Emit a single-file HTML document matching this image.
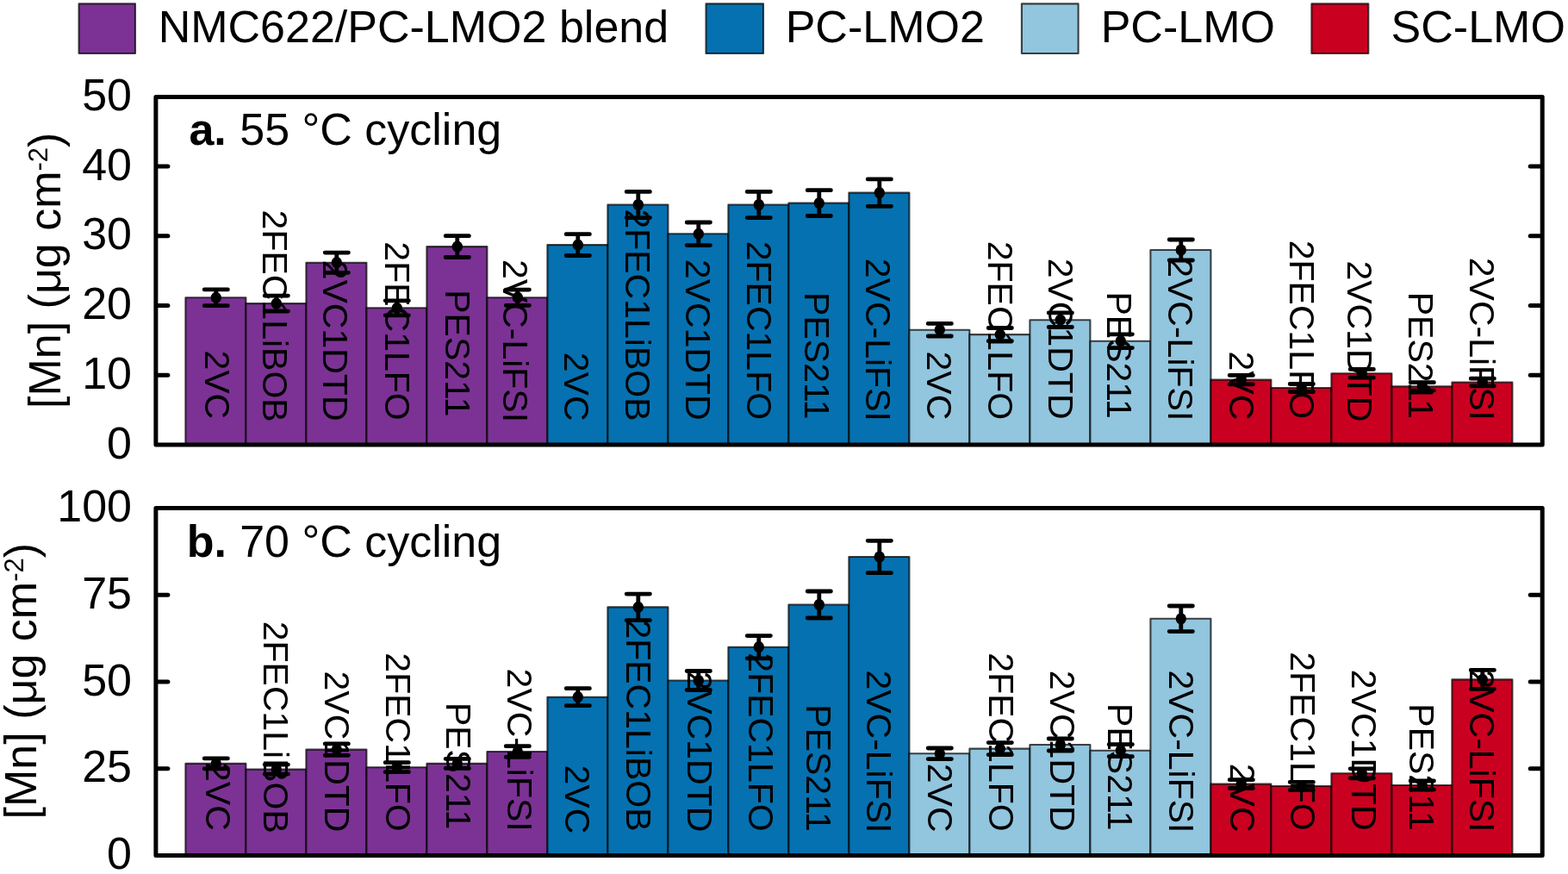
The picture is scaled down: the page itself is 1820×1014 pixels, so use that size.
<!DOCTYPE html>
<html><head><meta charset="utf-8"><title>Mn deposition</title>
<style>html,body{margin:0;padding:0;background:#fff;}svg{display:block;}text{font-kerning:normal;}</style>
</head><body>
<svg width="1820" height="1014" viewBox="0 0 1820 1014" font-family='"Liberation Sans", sans-serif'>
<rect width="1820" height="1014" fill="#fff"/>
<rect x="91.6" y="4.4" width="65.4" height="57.6" fill="#7b3294" stroke="#000" stroke-opacity="0.72" stroke-width="2.1" stroke-linejoin="round"/>
<text x="183.7" y="49" font-size="52">NMC622/PC-LMO2 blend</text>
<rect x="819.5" y="4.4" width="66.5" height="57.6" fill="#0571b0" stroke="#000" stroke-opacity="0.72" stroke-width="2.1" stroke-linejoin="round"/>
<text x="911.7" y="49" font-size="52">PC-LMO2</text>
<rect x="1185.9" y="4.4" width="65.7" height="57.6" fill="#92c5de" stroke="#000" stroke-opacity="0.72" stroke-width="2.1" stroke-linejoin="round"/>
<text x="1277.7" y="49" font-size="52">PC-LMO</text>
<rect x="1522.4" y="4.4" width="65.9" height="57.6" fill="#ca0020" stroke="#000" stroke-opacity="0.72" stroke-width="2.1" stroke-linejoin="round"/>
<text x="1614.6" y="49" font-size="52">SC-LMO</text>
<g stroke="#000" stroke-opacity="0.72" stroke-width="2.1" stroke-linejoin="round">
<rect x="215.4" y="345.3" width="70" height="170.7" fill="#7b3294"/>
<rect x="285.4" y="352.1" width="70" height="163.9" fill="#7b3294"/>
<rect x="355.4" y="304.7" width="70" height="211.3" fill="#7b3294"/>
<rect x="425.4" y="357.3" width="70" height="158.7" fill="#7b3294"/>
<rect x="495.4" y="286.1" width="70" height="229.9" fill="#7b3294"/>
<rect x="565.4" y="345.2" width="70" height="170.8" fill="#7b3294"/>
<rect x="635.4" y="284.1" width="70" height="231.9" fill="#0571b0"/>
<rect x="705.4" y="237.5" width="70" height="278.5" fill="#0571b0"/>
<rect x="775.4" y="271.3" width="70" height="244.7" fill="#0571b0"/>
<rect x="845.4" y="237.5" width="70" height="278.5" fill="#0571b0"/>
<rect x="915.4" y="235.6" width="70" height="280.4" fill="#0571b0"/>
<rect x="985.4" y="223.6" width="70" height="292.4" fill="#0571b0"/>
<rect x="1055.4" y="382.7" width="70" height="133.3" fill="#92c5de"/>
<rect x="1125.4" y="388.1" width="70" height="127.9" fill="#92c5de"/>
<rect x="1195.4" y="371.2" width="70" height="144.8" fill="#92c5de"/>
<rect x="1265.4" y="395.7" width="70" height="120.3" fill="#92c5de"/>
<rect x="1335.4" y="290" width="70" height="226" fill="#92c5de"/>
<rect x="1405.4" y="440.6" width="70" height="75.4" fill="#ca0020"/>
<rect x="1475.4" y="450" width="70" height="66" fill="#ca0020"/>
<rect x="1545.4" y="433.3" width="70" height="82.7" fill="#ca0020"/>
<rect x="1615.4" y="448.4" width="70" height="67.6" fill="#ca0020"/>
<rect x="1685.4" y="443.5" width="70" height="72.5" fill="#ca0020"/>
</g>
<g font-size="41" text-anchor="end">
<text transform="translate(237.7 486.2) rotate(90)">2VC</text>
<text transform="translate(304.9 489.7) rotate(90)">2FEC1LiBOB</text>
<text transform="translate(375.3 488.5) rotate(90)">2VC1DTD</text>
<text transform="translate(446.7 487.7) rotate(90)">2FEC1LFO</text>
<text transform="translate(517.4 483.6) rotate(90)">PES211</text>
<text transform="translate(584.4 490.1) rotate(90)">2VC-LiFSI</text>
<text transform="translate(655.2 488.5) rotate(90)">2VC</text>
<text transform="translate(726.2 488.5) rotate(90)">2FEC1LiBOB</text>
<text transform="translate(796 487.7) rotate(90)">2VC1DTD</text>
<text transform="translate(867.3 487.1) rotate(90)">2FEC1LFO</text>
<text transform="translate(934.4 486.5) rotate(90)">PES211</text>
<text transform="translate(1005.1 488.9) rotate(90)">2VC-LiFSI</text>
<text transform="translate(1075.5 487.3) rotate(90)">2VC</text>
<text transform="translate(1146.8 487.1) rotate(90)">2FEC1LFO</text>
<text transform="translate(1217.2 486.5) rotate(90)">2VC1DTD</text>
<text transform="translate(1284.6 485.9) rotate(90)">PES211</text>
<text transform="translate(1355.6 488.3) rotate(90)">2VC-LiFSI</text>
<text transform="translate(1426.6 487.3) rotate(90)">2VC</text>
<text transform="translate(1497.3 486.1) rotate(90)">2FEC1LFO</text>
<text transform="translate(1564.2 489.3) rotate(90)">2VC1DTD</text>
<text transform="translate(1635.1 486.1) rotate(90)">PES211</text>
<text transform="translate(1705.6 487.9) rotate(90)">2VC-LiFSI</text>
</g>
<g stroke="#000" stroke-width="4.8" stroke-linecap="round" fill="none">
<path d="M237.2 335.95H264.4M237.2 354.65H264.4M250.8 335.95V354.65"/>
<path d="M307.2 343.1H334.4M307.2 361.1H334.4M320.8 343.1V361.1"/>
<path d="M377.2 293.05H404.4M377.2 316.35H404.4M390.8 293.05V316.35"/>
<path d="M447.2 348.8H474.4M447.2 365.8H474.4M460.8 348.8V365.8"/>
<path d="M517.2 273.7H544.4M517.2 298.5H544.4M530.8 273.7V298.5"/>
<path d="M587.2 336.1H614.4M587.2 354.3H614.4M600.8 336.1V354.3"/>
<path d="M657.2 271.7H684.4M657.2 296.5H684.4M670.8 271.7V296.5"/>
<path d="M727.2 222.4H754.4M727.2 252.6H754.4M740.8 222.4V252.6"/>
<path d="M797.2 258H824.4M797.2 284.6H824.4M810.8 258V284.6"/>
<path d="M867.2 222.4H894.4M867.2 252.6H894.4M880.8 222.4V252.6"/>
<path d="M937.2 220.7H964.4M937.2 250.5H964.4M950.8 220.7V250.5"/>
<path d="M1007.2 207.9H1034.4M1007.2 239.3H1034.4M1020.8 207.9V239.3"/>
<path d="M1077.2 375.4H1104.4M1077.2 390H1104.4M1090.8 375.4V390"/>
<path d="M1147.2 380.5H1174.4M1147.2 395.7H1174.4M1160.8 380.5V395.7"/>
<path d="M1217.2 362.9H1244.4M1217.2 379.5H1244.4M1230.8 362.9V379.5"/>
<path d="M1287.2 387.8H1314.4M1287.2 403.6H1314.4M1300.8 387.8V403.6"/>
<path d="M1357.2 278H1384.4M1357.2 302H1384.4M1370.8 278V302"/>
<path d="M1427.2 435.4H1454.4M1427.2 445.8H1454.4M1440.8 435.4V445.8"/>
<path d="M1497.2 445.5H1524.4M1497.2 454.5H1524.4M1510.8 445.5V454.5"/>
<path d="M1567.2 428.4H1594.4M1567.2 438.2H1594.4M1580.8 428.4V438.2"/>
<path d="M1637.2 443.7H1664.4M1637.2 453.1H1664.4M1650.8 443.7V453.1"/>
<path d="M1707.2 439.2H1734.4M1707.2 447.8H1734.4M1720.8 439.2V447.8"/>
</g>
<g fill="#000">
<ellipse cx="250.8" cy="345.3" rx="6.2" ry="6.6"/>
<ellipse cx="320.8" cy="352.1" rx="6.2" ry="6.6"/>
<ellipse cx="390.8" cy="304.7" rx="6.2" ry="6.6"/>
<ellipse cx="460.8" cy="357.3" rx="6.2" ry="6.6"/>
<ellipse cx="530.8" cy="286.1" rx="6.2" ry="6.6"/>
<ellipse cx="600.8" cy="345.2" rx="6.2" ry="6.6"/>
<ellipse cx="670.8" cy="284.1" rx="6.2" ry="6.6"/>
<ellipse cx="740.8" cy="237.5" rx="6.2" ry="6.6"/>
<ellipse cx="810.8" cy="271.3" rx="6.2" ry="6.6"/>
<ellipse cx="880.8" cy="237.5" rx="6.2" ry="6.6"/>
<ellipse cx="950.8" cy="235.6" rx="6.2" ry="6.6"/>
<ellipse cx="1020.8" cy="223.6" rx="6.2" ry="6.6"/>
<ellipse cx="1090.8" cy="382.7" rx="6.2" ry="6.6"/>
<ellipse cx="1160.8" cy="388.1" rx="6.2" ry="6.6"/>
<ellipse cx="1230.8" cy="371.2" rx="6.2" ry="6.6"/>
<ellipse cx="1300.8" cy="395.7" rx="6.2" ry="6.6"/>
<ellipse cx="1370.8" cy="290" rx="6.2" ry="6.6"/>
<ellipse cx="1440.8" cy="440.6" rx="6.2" ry="6.6"/>
<ellipse cx="1510.8" cy="450" rx="6.2" ry="6.6"/>
<ellipse cx="1580.8" cy="433.3" rx="6.2" ry="6.6"/>
<ellipse cx="1650.8" cy="448.4" rx="6.2" ry="6.6"/>
<ellipse cx="1720.8" cy="443.5" rx="6.2" ry="6.6"/>
</g>
<path d="M180.9 112.4H1790.2V516H180.9ZM180.9 516H194.9M1776.2 516H1790.2M180.9 435.28H194.9M1776.2 435.28H1790.2M180.9 354.56H194.9M1776.2 354.56H1790.2M180.9 273.84H194.9M1776.2 273.84H1790.2M180.9 193.12H194.9M1776.2 193.12H1790.2M180.9 112.4H194.9M1776.2 112.4H1790.2" fill="none" stroke="#000" stroke-width="5" stroke-linejoin="round" stroke-linecap="round"/>
<g font-size="52" text-anchor="end">
<text x="153" y="531.5">0</text>
<text x="153" y="450.78">10</text>
<text x="153" y="370.06">20</text>
<text x="153" y="289.34">30</text>
<text x="153" y="208.62">40</text>
<text x="153" y="127.9">50</text>
</g>
<text font-size="52" transform="translate(70 474) rotate(-90)">[Mn] (μg cm<tspan font-size="31" dy="-15.5">-2</tspan><tspan dy="15.5">)</tspan></text>
<text font-size="52" x="219.4" y="168.3"><tspan font-weight="bold">a.</tspan><tspan dx="1"> 55 °C cycling</tspan></text>
<g stroke="#000" stroke-opacity="0.72" stroke-width="2.1" stroke-linejoin="round">
<rect x="215.4" y="885.9" width="70" height="106.6" fill="#7b3294"/>
<rect x="285.4" y="892.6" width="70" height="99.9" fill="#7b3294"/>
<rect x="355.4" y="869.6" width="70" height="122.9" fill="#7b3294"/>
<rect x="425.4" y="890.2" width="70" height="102.3" fill="#7b3294"/>
<rect x="495.4" y="885.9" width="70" height="106.6" fill="#7b3294"/>
<rect x="565.4" y="872" width="70" height="120.5" fill="#7b3294"/>
<rect x="635.4" y="808.7" width="70" height="183.8" fill="#0571b0"/>
<rect x="705.4" y="704.4" width="70" height="288.1" fill="#0571b0"/>
<rect x="775.4" y="789.5" width="70" height="203" fill="#0571b0"/>
<rect x="845.4" y="750.7" width="70" height="241.8" fill="#0571b0"/>
<rect x="915.4" y="701.5" width="70" height="291" fill="#0571b0"/>
<rect x="985.4" y="646" width="70" height="346.5" fill="#0571b0"/>
<rect x="1055.4" y="874.3" width="70" height="118.2" fill="#92c5de"/>
<rect x="1125.4" y="868.6" width="70" height="123.9" fill="#92c5de"/>
<rect x="1195.4" y="864" width="70" height="128.5" fill="#92c5de"/>
<rect x="1265.4" y="870.7" width="70" height="121.8" fill="#92c5de"/>
<rect x="1335.4" y="717.8" width="70" height="274.7" fill="#92c5de"/>
<rect x="1405.4" y="909.6" width="70" height="82.9" fill="#ca0020"/>
<rect x="1475.4" y="912" width="70" height="80.5" fill="#ca0020"/>
<rect x="1545.4" y="897.3" width="70" height="95.2" fill="#ca0020"/>
<rect x="1615.4" y="911" width="70" height="81.5" fill="#ca0020"/>
<rect x="1685.4" y="788.4" width="70" height="204.1" fill="#ca0020"/>
</g>
<g font-size="41" text-anchor="end">
<text transform="translate(238.6 963.8) rotate(90)">2VC</text>
<text transform="translate(306.1 966.8) rotate(90)">2FEC1LiBOB</text>
<text transform="translate(376.8 965.4) rotate(90)">2VC1DTD</text>
<text transform="translate(447.9 964.7) rotate(90)">2FEC1LFO</text>
<text transform="translate(518 962.3) rotate(90)">PES211</text>
<text transform="translate(589 964.7) rotate(90)">2VC-LiFSI</text>
<text transform="translate(656.4 967.3) rotate(90)">2VC</text>
<text transform="translate(727.1 964.5) rotate(90)">2FEC1LiBOB</text>
<text transform="translate(797.5 965.3) rotate(90)">2VC1DTD</text>
<text transform="translate(868.5 964.7) rotate(90)">2FEC1LFO</text>
<text transform="translate(935.9 964.7) rotate(90)">PES211</text>
<text transform="translate(1006.3 966.5) rotate(90)">2VC-LiFSI</text>
<text transform="translate(1077.3 965.5) rotate(90)">2VC</text>
<text transform="translate(1148.3 964.7) rotate(90)">2FEC1LFO</text>
<text transform="translate(1218.5 964.7) rotate(90)">2VC1DTD</text>
<text transform="translate(1285.5 963.5) rotate(90)">PES211</text>
<text transform="translate(1357.1 966.5) rotate(90)">2VC-LiFSI</text>
<text transform="translate(1427.5 965.5) rotate(90)">2VC</text>
<text transform="translate(1498 963.7) rotate(90)">2FEC1LFO</text>
<text transform="translate(1569 963.7) rotate(90)">2VC1DTD</text>
<text transform="translate(1635.9 963.7) rotate(90)">PES211</text>
<text transform="translate(1706.4 965.5) rotate(90)">2VC-LiFSI</text>
</g>
<g stroke="#000" stroke-width="4.8" stroke-linecap="round" fill="none">
<path d="M237.2 879.9H264.4M237.2 891.9H264.4M250.8 879.9V891.9"/>
<path d="M307.2 887.1H334.4M307.2 898.1H334.4M320.8 887.1V898.1"/>
<path d="M377.2 862.9H404.4M377.2 876.3H404.4M390.8 862.9V876.3"/>
<path d="M447.2 884.7H474.4M447.2 895.7H474.4M460.8 884.7V895.7"/>
<path d="M517.2 880.4H544.4M517.2 891.4H544.4M530.8 880.4V891.4"/>
<path d="M587.2 865.7H614.4M587.2 878.3H614.4M600.8 865.7V878.3"/>
<path d="M657.2 798.7H684.4M657.2 818.7H684.4M670.8 798.7V818.7"/>
<path d="M727.2 689.1H754.4M727.2 719.7H754.4M740.8 689.1V719.7"/>
<path d="M797.2 778.5H824.4M797.2 800.5H824.4M810.8 778.5V800.5"/>
<path d="M867.2 737.6H894.4M867.2 763.8H894.4M880.8 737.6V763.8"/>
<path d="M937.2 686H964.4M937.2 717H964.4M950.8 686V717"/>
<path d="M1007.2 627.3H1034.4M1007.2 664.7H1034.4M1020.8 627.3V664.7"/>
<path d="M1077.2 868H1104.4M1077.2 880.6H1104.4M1090.8 868V880.6"/>
<path d="M1147.2 861.6H1174.4M1147.2 875.6H1174.4M1160.8 861.6V875.6"/>
<path d="M1217.2 857H1244.4M1217.2 871H1244.4M1230.8 857V871"/>
<path d="M1287.2 863.7H1314.4M1287.2 877.7H1314.4M1300.8 863.7V877.7"/>
<path d="M1357.2 703H1384.4M1357.2 732.6H1384.4M1370.8 703V732.6"/>
<path d="M1427.2 904.7H1454.4M1427.2 914.5H1454.4M1440.8 904.7V914.5"/>
<path d="M1497.2 907.4H1524.4M1497.2 916.6H1524.4M1510.8 907.4V916.6"/>
<path d="M1567.2 891.8H1594.4M1567.2 902.8H1594.4M1580.8 891.8V902.8"/>
<path d="M1637.2 906H1664.4M1637.2 916H1664.4M1650.8 906V916"/>
<path d="M1707.2 777.4H1734.4M1707.2 799.4H1734.4M1720.8 777.4V799.4"/>
</g>
<g fill="#000">
<ellipse cx="250.8" cy="885.9" rx="6.2" ry="6.6"/>
<ellipse cx="320.8" cy="892.6" rx="6.2" ry="6.6"/>
<ellipse cx="390.8" cy="869.6" rx="6.2" ry="6.6"/>
<ellipse cx="460.8" cy="890.2" rx="6.2" ry="6.6"/>
<ellipse cx="530.8" cy="885.9" rx="6.2" ry="6.6"/>
<ellipse cx="600.8" cy="872" rx="6.2" ry="6.6"/>
<ellipse cx="670.8" cy="808.7" rx="6.2" ry="6.6"/>
<ellipse cx="740.8" cy="704.4" rx="6.2" ry="6.6"/>
<ellipse cx="810.8" cy="789.5" rx="6.2" ry="6.6"/>
<ellipse cx="880.8" cy="750.7" rx="6.2" ry="6.6"/>
<ellipse cx="950.8" cy="701.5" rx="6.2" ry="6.6"/>
<ellipse cx="1020.8" cy="646" rx="6.2" ry="6.6"/>
<ellipse cx="1090.8" cy="874.3" rx="6.2" ry="6.6"/>
<ellipse cx="1160.8" cy="868.6" rx="6.2" ry="6.6"/>
<ellipse cx="1230.8" cy="864" rx="6.2" ry="6.6"/>
<ellipse cx="1300.8" cy="870.7" rx="6.2" ry="6.6"/>
<ellipse cx="1370.8" cy="717.8" rx="6.2" ry="6.6"/>
<ellipse cx="1440.8" cy="909.6" rx="6.2" ry="6.6"/>
<ellipse cx="1510.8" cy="912" rx="6.2" ry="6.6"/>
<ellipse cx="1580.8" cy="897.3" rx="6.2" ry="6.6"/>
<ellipse cx="1650.8" cy="911" rx="6.2" ry="6.6"/>
<ellipse cx="1720.8" cy="788.4" rx="6.2" ry="6.6"/>
</g>
<path d="M180.9 589.6H1790.2V992.5H180.9ZM180.9 992.5H194.9M1776.2 992.5H1790.2M180.9 891.77H194.9M1776.2 891.77H1790.2M180.9 791.05H194.9M1776.2 791.05H1790.2M180.9 690.33H194.9M1776.2 690.33H1790.2M180.9 589.6H194.9M1776.2 589.6H1790.2" fill="none" stroke="#000" stroke-width="5" stroke-linejoin="round" stroke-linecap="round"/>
<g font-size="52" text-anchor="end">
<text x="153" y="1008">0</text>
<text x="153" y="907.27">25</text>
<text x="153" y="806.55">50</text>
<text x="153" y="705.83">75</text>
<text x="153" y="605.1">100</text>
</g>
<text font-size="52" transform="translate(42.3 950.4) rotate(-90)">[Mn] (μg cm<tspan font-size="31" dy="-15.5">-2</tspan><tspan dy="15.5">)</tspan></text>
<text font-size="52" x="216.8" y="645.5"><tspan font-weight="bold">b.</tspan><tspan dx="0.7"> 70 °C cycling</tspan></text>
</svg>
</body></html>
